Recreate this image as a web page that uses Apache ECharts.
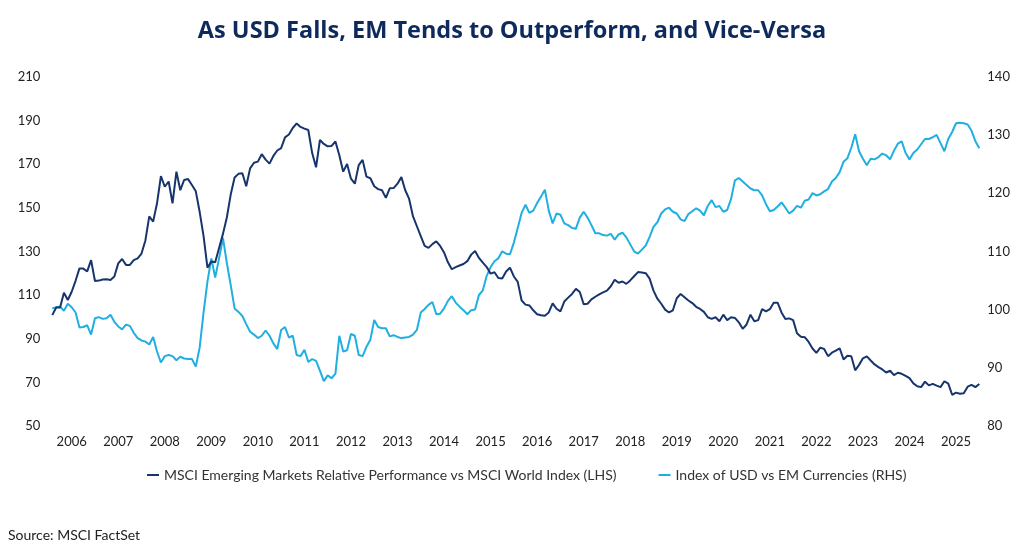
<!DOCTYPE html>
<html>
<head>
<meta charset="utf-8">
<script src="https://cdn.jsdelivr.net/npm/echarts@6/dist/echarts.min.js"></script>
<style>
html,body{margin:0;padding:0;background:#fff;}
#chart{width:1024px;height:552px;}
</style>
</head>
<body>
<div id="chart"></div>
<script>
// Monthly observations, Aug 2005 .. Jul 2025
const startYear = 2005;
const startMonth = 8;
const yearLabels = ['2006','2007','2008','2009','2010','2011','2012','2013','2014','2015','2016','2017','2018','2019','2020','2021','2022','2023','2024','2025'];

const emRelative = [
  100.8,104.3,104.3,111,107.7,111.5,116.5,122.2,122.1,120.8,126,116.4,
  116.6,117.1,117.2,116.9,118.5,124.5,126.5,123.8,123.8,126,126.8,129,
  135,146,143.6,152,164.5,159.6,162,152,166.5,158,162.7,163.1,
  160.4,157.5,148,137,122.5,125.3,125,131.5,138,145.5,156,163.8,
  165.5,165.8,159.8,168,170.6,171.1,174.5,172,170.2,173.7,176.2,177.3,
  182.2,183.5,186.5,188.6,187,186.2,185.6,175,168.5,181,179.2,178.1,
  178.3,180.3,174,166.5,170,163.3,161,169.5,171.9,164.2,163.5,159.8,
  158.5,158,154.5,158.9,159,161,164,158,154,146,141.5,137,
  132.5,131.6,133.3,134.6,132.5,129.5,125,121.8,122.8,123.5,124.2,125.5,
  128.5,130.2,127,124.8,122.8,119.8,120.4,117.8,117.6,120.8,122.5,118.5,
  116,107.5,105.6,105.2,103,101.2,100.7,100.5,102,106.2,103.7,102.5,
  107,108.8,110.5,112.8,111.4,105.8,106,108,109.2,110.3,111.2,112,
  114,117,115.6,116.2,115.1,116.7,118.6,120.5,120.3,120,117.5,112,
  108.3,106,103.3,102,103,108.5,110.5,109,107.5,106.3,104.6,103.6,
  102.3,99.8,99.1,99.8,98,101,98.5,99.8,99.5,97.5,94.5,96.5,
  101,98,98.5,103.5,102.5,103.5,106.5,106.5,102,99,99.3,98.5,
  92.5,90.9,90.7,88.5,85.5,83.5,85.9,85.3,82,83.6,84.5,85.6,
  80.5,82.2,82,75.5,78,81,81.9,80,78.2,77,75.9,74.5,
  75.3,73.3,74.4,73.9,73,71.9,69.5,68.2,67.8,70.3,68.6,69.3,
  68.5,67.8,70.5,69.4,64.3,65.3,64.8,65,68,68.8,67.8,69.2
];

const usdVsEm = [
  100.2,100.4,100.5,99.8,101,100.4,99.5,96.9,97,97.3,95.7,98.5,
  98.7,98.4,98.5,99.1,97.9,97.1,96.6,97.4,97.2,96,95.1,94.7,
  94.5,94,95.3,92.8,90.9,92,92.2,92,91.3,91.9,91.6,91.5,
  91.5,90.2,93.5,99.5,104.8,108.8,105.5,108.8,112.3,108,104.2,100.2,
  99.6,98.9,97.5,96.2,95.7,95.1,95.5,96.4,95.5,94.2,93.2,96.5,
  97,95.2,95.5,92.2,92,93.1,91,91.5,91.2,89.5,87.7,88.7,
  88.2,89,95.5,92.8,93,95.8,95.5,92.2,92,93.6,94.8,98.2,
  97,96.8,96.8,95.4,95.6,95.3,95.1,95.2,95.3,95.7,96.5,99.5,
  100.1,100.8,101.3,99.2,99.3,100.2,101.5,102.3,101.2,100.5,99.9,99.2,
  99.9,100,102.5,103.3,105.8,107.3,108.3,108.8,110,109.6,109.5,111.5,
  114,116.6,118,116.6,117,118.3,119.4,120.6,117,114.8,116.5,116.3,
  114.8,114.5,114,113.9,115.8,116.8,115.8,114.5,113.1,113.1,112.8,112.7,
  113,112,112.9,113.2,112.4,111.2,110,109.6,110.3,111,112.5,114.2,
  115,116.5,117.2,117.5,116.8,116.5,115.5,115.2,116.4,116.9,117.4,117,
  116.2,117.8,118.8,117.6,117.8,116.8,117.1,119,122.2,122.6,122,121.4,
  120.8,120.5,120.5,119.6,118.1,116.9,117.1,117.7,118.4,117.5,116.5,117,
  117.8,117.5,118.7,118.9,120,119.6,119.8,120.3,120.7,122,122.6,123.6,
  125.4,126,127.8,130.1,127.2,125.9,124.8,125.9,125.8,126.2,126.8,126.5,
  125.8,127.3,128.5,128.9,126.9,125.8,126.9,127.5,128.4,129.3,129.3,129.6,
  130,128.6,127.2,129.3,130.5,132,132.1,132,131.8,130.7,128.9,127.7
];

const seriesNames = [
  'MSCI Emerging Markets Relative Performance vs MSCI World Index (LHS)',
  'Index of USD vs EM Currencies (RHS)'
];

// month categories
const months = [];
for (let k = 0; k < emRelative.length; k++) {
  const m = startMonth - 1 + k;
  const y = startYear + Math.floor(m / 12);
  const mm = (m % 12) + 1;
  months.push(y + '-' + (mm < 10 ? '0' + mm : '' + mm));
}

const chart = echarts.init(document.getElementById('chart'), null, {renderer: 'canvas'});
const FONT = 'Lato';
const option = {
  backgroundColor: '#ffffff',
  animation: false,
  title: {
    text: 'As USD Falls, EM Tends to Outperform, and Vice-Versa',
    left: 'center',
    top: 14,
    textStyle: {fontFamily: 'Open Sans', fontSize: 23.5, fontWeight: 'bold', color: '#0e2a5c'}
  },
  legend: {
    data: seriesNames,
    left: 142,
    top: 463,
    icon: 'rect',
    itemWidth: 12,
    itemHeight: 2,
    itemGap: 42,
    textStyle: {fontFamily: FONT, fontSize: 14, color: '#333'}
  },
  graphic: [{
    type: 'text',
    left: 8,
    top: 528,
    style: {text: 'Source: MSCI FactSet', fontFamily: FONT, fontSize: 14, fill: '#222'}
  }],
  grid: {left: 52.3, right: 44.7, top: 76.7, bottom: 126, containLabel: false},
  xAxis: {
    type: 'category',
    data: months,
    boundaryGap: false,
    axisLine: {show: false},
    axisTick: {show: false},
    splitLine: {show: false},
    axisLabel: {
      margin: 9,
      fontFamily: FONT, fontSize: 13, color: '#222',
      interval: function (idx, val) { return val.slice(5) === '01' && yearLabels.indexOf(val.slice(0, 4)) >= 0; },
      formatter: function (val) { return val.slice(0, 4); }
    }
  },
  yAxis: [{
    type: 'value', min: 50, max: 210, interval: 10, position: 'left',
    axisLine: {show: false}, axisTick: {show: false}, splitLine: {show: false},
    axisLabel: {margin: 12, fontFamily: FONT, fontSize: 13, color: '#222',
      formatter: function (v) { return ((v - 50) % 20 === 0) ? String(v) : ''; }}
  }, {
    type: 'value', min: 80, max: 140, interval: 10, position: 'right',
    axisLine: {show: false}, axisTick: {show: false}, splitLine: {show: false},
    axisLabel: {margin: 8, fontFamily: FONT, fontSize: 13, color: '#222'}
  }],
  series: [{
    name: seriesNames[1],
    type: 'line',
    yAxisIndex: 1,
    data: usdVsEm,
    showSymbol: false,
    symbol: 'none',
    lineStyle: {width: 2, color: '#20afe0'},
    itemStyle: {color: '#20afe0'}
  }, {
    name: seriesNames[0],
    type: 'line',
    yAxisIndex: 0,
    data: emRelative,
    showSymbol: false,
    symbol: 'none',
    lineStyle: {width: 2, color: '#17356c'},
    itemStyle: {color: '#17356c'}
  }]
};
chart.setOption(option);
</script>
</body>
</html>
